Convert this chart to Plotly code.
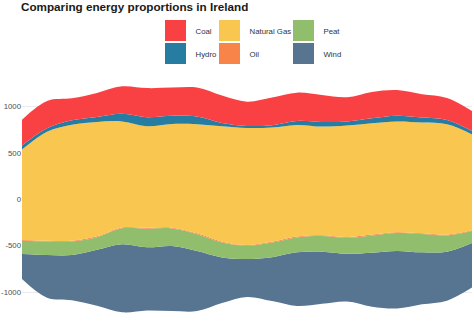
import plotly.graph_objects as go

# ---------------- data ----------------
periods = list(range(1, 20))

coal = [280, 295, 237, 259, 295, 313, 302, 313, 295, 262, 298, 305, 291, 262, 284, 277, 251, 237, 216]
hydro = [43, 36, 47, 54, 83, 97, 90, 83, 36, 22, 25, 43, 50, 43, 54, 61, 54, 47, 36]
natural_gas = [973, 1175, 1250, 1232, 1142, 1096, 1117, 1175, 1243, 1261, 1232, 1203, 1171, 1203, 1200, 1193, 1193, 1189, 1034]
oil = [9, 8, 8, 9, 10, 9, 8, 9, 9, 8, 8, 9, 9, 8, 9, 9, 8, 8, 8]
peat = [143, 146, 146, 136, 172, 200, 190, 182, 161, 143, 157, 161, 168, 172, 186, 193, 197, 175, 128]
wind = [269, 460, 489, 603, 733, 682, 700, 647, 492, 409, 474, 578, 560, 514, 582, 621, 560, 528, 481]

y_tick_vals = [-1000, -500, 0, 500, 1000]
y_tick_text = ["-1000", "-500", "0", "500", "1000"]

title_text = "Comparing energy proportions in Ireland"

# stacking order, bottom to top
stack = [("Wind", wind), ("Peat", peat), ("Oil", oil),
         ("Natural Gas", natural_gas), ("Hydro", hydro), ("Coal", coal)]

# legend columns (2 rows each)
legend_columns = [["Coal", "Hydro"], ["Natural Gas", "Oil"], ["Peat", "Wind"]]

# ---------------- styles ----------------
colors = {
    "Coal": "#f94144",
    "Hydro": "#277da1",
    "Natural Gas": "#f9c74f",
    "Oil": "#f9844a",
    "Peat": "#90be6d",
    "Wind": "#577590",
}
FONT = "Liberation Sans, Arial, sans-serif"
legend_ids = ["legend", "legend2", "legend3"]
legend_x = [0.2967, 0.4167, 0.5811]

fig = go.Figure()

# mirrored (centred) stream baseline
totals = [sum(vals[i] for _, vals in stack) for i in range(len(periods))]
cum = [-t / 2 for t in totals]

fig.add_trace(go.Scatter(
    x=periods, y=cum, mode="lines",
    line=dict(width=0, shape="spline", smoothing=1.0),
    showlegend=False, hoverinfo="skip"))

for name, vals in stack:
    cum = [c + v for c, v in zip(cum, vals)]
    fig.add_trace(go.Scatter(
        x=periods, y=cum, mode="lines", name=name,
        line=dict(width=0, shape="spline", smoothing=1.0, color=colors[name]),
        fill="tonexty", fillcolor=colors[name],
        showlegend=False))

# legend entries (square keys)
for col, leg in zip(legend_columns, legend_ids):
    for name in col:
        fig.add_trace(go.Scatter(
            x=[None], y=[None], mode="markers", name=name, legend=leg,
            legendgroup=name,
            marker=dict(symbol="square", size=16, color=colors[name],
                        line=dict(width=5, color=colors[name])),
            hoverinfo="skip"))

legend_layout = {}
for leg, lx in zip(legend_ids, legend_x):
    legend_layout[leg] = dict(
        orientation="v", xanchor="left", x=lx,
        yanchor="middle", y=1 + (73 - 42) / 249,
        font=dict(size=7.8, color="#333333", family=FONT),
        bgcolor="rgba(0,0,0,0)", traceorder="grouped", tracegroupgap=4,
        itemclick=False, itemdoubleclick=False,
    )

fig.update_layout(
    width=474, height=322,
    margin=dict(l=22, r=2, t=73, b=0, autoexpand=False),
    paper_bgcolor="white", plot_bgcolor="white",
    font=dict(family=FONT),
    title=dict(text="<b>" + title_text + "</b>", x=21 / 474, xanchor="left",
               xref="container", y=0.99, yanchor="top",
               font=dict(size=11.7, color="#1a1a1a", family=FONT)),
    xaxis=dict(range=[1, 19], visible=False, showgrid=False, zeroline=False),
    yaxis=dict(range=[-1322, 1361], tickvals=y_tick_vals, ticktext=y_tick_text,
               tickfont=dict(size=7.8, color="#4d4d4d", family=FONT),
               showgrid=True, gridcolor="#ebebeb", gridwidth=0.6,
               zeroline=False, ticks="", showline=False),
    showlegend=True,
    **legend_layout,
)

fig.write_html("out.html")
